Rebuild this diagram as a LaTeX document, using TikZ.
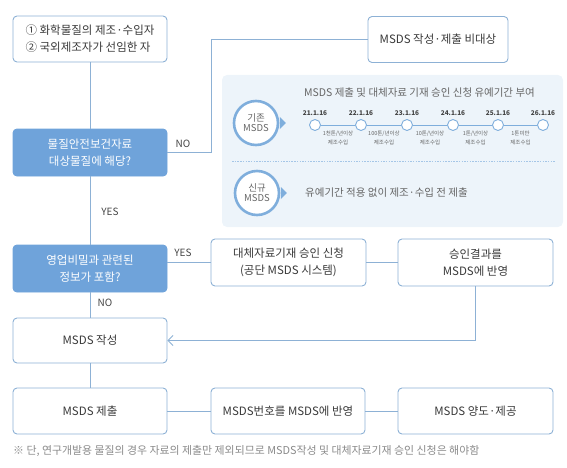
\documentclass[tikz,border=0pt]{standalone}
\usepackage{fontspec}
\setmainfont{Noto Sans CJK KR}
\usetikzlibrary{arrows.meta,calc}
\definecolor{ln}{HTML}{8DB1D5}
\definecolor{dfill}{HTML}{6FA3DA}
\definecolor{cb}{HTML}{7FAEDC}
\definecolor{pfill}{HTML}{EDF4FA}
\definecolor{txt}{HTML}{3A3A3A}
\definecolor{lbl}{HTML}{444444}
\definecolor{notec}{HTML}{8A8A8A}
\definecolor{soft}{HTML}{666666}
\newcommand\fsz[2]{\fontsize{#1}{#2}\selectfont}
\tikzset{
  box/.style={draw=ln, line width=0.9pt, rounded corners=4pt, fill=white,
    minimum width=154pt, minimum height=46pt, align=center, text=txt,
    font=\fsz{11.5}{17}, inner sep=0pt},
  dec/.style={box, fill=dfill, draw=dfill, text=white},
  conn/.style={draw=ln, line width=0.9pt},
  yn/.style={text=lbl, font=\fsz{10}{11}, inner sep=0pt},
  bigc/.style={circle, draw=cb, line width=2.6pt, fill=white, minimum size=44pt,
    inner sep=0pt, align=center, text=soft, font=\fsz{9.5}{12}},
  tl/.style={circle, draw=cb, line width=0.9pt, fill=white, minimum size=11pt, inner sep=0pt},
  date/.style={text=lbl, font=\bfseries\fsz{6.5}{8}, inner sep=0pt},
  tlab/.style={text=soft, font=\fsz{5.5}{9}, align=center, inner sep=0pt},
  ptext/.style={text=soft, font=\fsz{10.5}{12}, anchor=west, inner sep=0pt}
}
\begin{document}
\begin{tikzpicture}[x=1pt,y=-1pt]
\useasboundingbox (0,0) rectangle (567,468);
% panel
\node (panel) [fill=pfill, rounded corners=5pt, minimum width=341pt, minimum height=152pt, inner sep=0pt] at (392.5,151) {};
\draw[cb!70, line width=0.7pt, dash pattern=on 1.5pt off 1.2pt] (232,161) coordinate (dl) -- (555,161) coordinate (dr);
% big circles
\node (oldc) [bigc] at (256,123) {기존\\[-2pt]MSDS};
\fill[cb] ($(oldc.east)+(0.5,-6)$) coordinate (oa) -- ++(6,6) -- ++(-6,6) -- cycle;
\node (newc) [bigc] at (257,193) {신규\\[-2pt]MSDS};
\fill[cb] ($(newc.east)+(0.5,-6)$) coordinate (na) -- ++(6,6) -- ++(-6,6) -- cycle;
\node (ptitle) [ptext] at (304,93) {MSDS 제출 및 대체자료 기재 승인 신청 유예기간 부여};
\node (pnew) [ptext] at (305,193) {유예기간 적용 없이 제조·수입 전 제출};
% timeline
\node (t1) [tl] at (315,125) {};
\node (t2) [tl] at (361,125) {};
\node (t3) [tl] at (407,125) {};
\node (t4) [tl] at (453,125) {};
\node (t5) [tl] at (498,125) {};
\node (t6) [tl] at (543,125) {};
\draw[cb, line width=0.9pt] (t1) -- (t2); \draw[cb, line width=0.9pt] (t2) -- (t3);
\draw[cb, line width=0.9pt] (t3) -- (t4); \draw[cb, line width=0.9pt] (t4) -- (t5);
\draw[cb, line width=0.9pt] (t5) -- (t6);
\node (d1) [date] at (315,113) {21.1.16};
\node (d2) [date] at (361,113) {22.1.16};
\node (d3) [date] at (407,113) {23.1.16};
\node (d4) [date] at (453,113) {24.1.16};
\node (d5) [date] at (498,113) {25.1.16};
\node (d6) [date] at (543,113) {26.1.16};
\node (l1) [tlab] at (338,138) {1천톤/년이상\\제조수입};
\node (l2) [tlab] at (384,138) {100톤/년이상\\제조수입};
\node (l3) [tlab] at (430,138) {10톤/년이상\\제조수입};
\node (l4) [tlab] at (475.5,138) {1톤/년이상\\제조수입};
\node (l5) [tlab] at (520.5,138) {1톤미만\\제조수입};
% flow boxes
\node (top) [box, align=left] at (90,39) {① 화학물질의 제조·수입자\\② 국외제조자가 선임한 자};
\node (notbox) [box, minimum width=140pt] at (438,39.5) {MSDS 작성·제출 비대상};
\node (dec1) [dec, minimum height=47pt] at (90,152.5) {물질안전보건자료\\대상물질에 해당?};
\node (dec2) [dec, minimum height=47pt] at (90,268.5) {영업비밀과 관련된\\정보가 포함?};
\node (alt) [box, minimum width=155pt, minimum height=47pt] at (288.5,262.5) {대체자료기재 승인 신청\\(공단 MSDS 시스템)};
\node (res) [box, minimum width=155pt, minimum height=47pt] at (475.5,262.5) {승인결과를\\MSDS에 반영};
\node (write) [box, minimum height=45pt] at (90,340.5) {MSDS 작성};
\node (submit) [box] at (90,411) {MSDS 제출};
\node (num) [box] at (288,411) {MSDS번호를 MSDS에 반영};
\node (transfer) [box, minimum width=155pt] at (475.5,411) {MSDS 양도·제공};
% connectors
\coordinate (nobend) at (211,39.5);
\draw[conn] (top) -- (dec1);
\draw[conn] (dec1.east) -| (nobend) -- (notbox.west);
\draw[conn] (dec1) -- (dec2);
\draw[conn] (dec2.east |- alt.west) -- (alt.west);
\draw[conn] (alt) -- (res);
\draw[conn, -{Straight Barb[length=5pt,width=10pt,line width=0.9pt]}] (res.south) |- (write.east);
\draw[conn] (dec2) -- (write);
\draw[conn] (write) -- (submit);
\draw[conn] (submit) -- (num);
\draw[conn] (num) -- (transfer);
% labels
\node (no1) [yn] at (183,144) {NO};
\node (yes1) [yn] at (110,212) {YES};
\node (yes2) [yn] at (183,253) {YES};
\node (no2) [yn] at (105,303) {NO};
\node (note) [anchor=west, text=notec, font=\fsz{10.9}{12}, inner sep=0pt] at (13,451) {※ 단, 연구개발용 물질의 경우 자료의 제출만 제외되므로 MSDS작성 및 대체자료기재 승인 신청은 해야함};
\end{tikzpicture}
\end{document}
